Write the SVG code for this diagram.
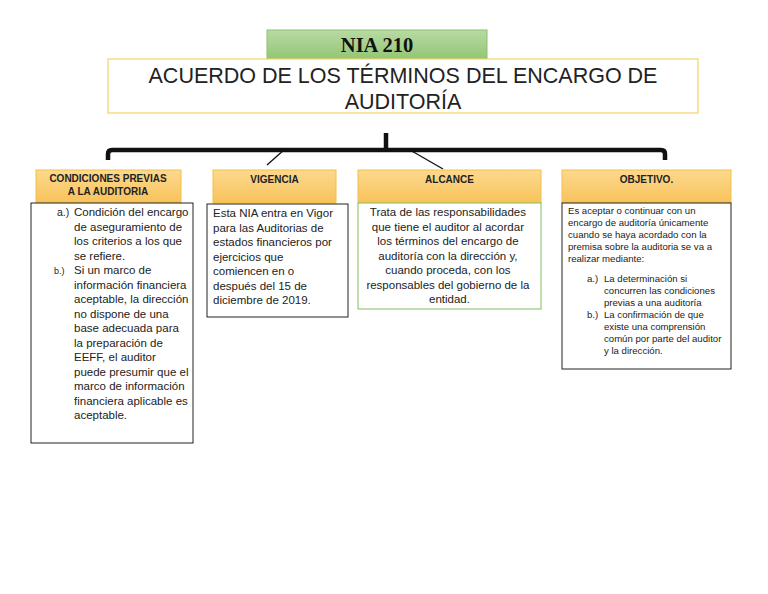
<svg xmlns="http://www.w3.org/2000/svg" width="768" height="594" viewBox="0 0 768 594">
<defs>
<linearGradient id="gGreen" x1="0" y1="0" x2="0" y2="1"><stop offset="0" stop-color="#b9daa2"/><stop offset="1" stop-color="#93c676"/></linearGradient>
<linearGradient id="gOrange" x1="0" y1="0" x2="0" y2="1"><stop offset="0" stop-color="#fcd98e"/><stop offset="1" stop-color="#f8c25a"/></linearGradient>
<style>
.t{font-family:"Liberation Sans",Arial,sans-serif;fill:#222}
.hb{fill:url(#gOrange);stroke:#f1c04a;stroke-width:1}
.hd{font-family:"Liberation Sans",Arial,sans-serif;font-weight:bold;font-size:10px;fill:#222;text-anchor:middle}
.cb{fill:#fff;stroke:#222;stroke-width:1}
.b1{font-size:11.5px}
.b4{font-size:9.6px}
.conn{fill:none;stroke:#111}
</style>
</defs>
<rect width="768" height="594" fill="#fff"/>
<g id="nia">
<rect x="267" y="30" width="220" height="29" fill="url(#gGreen)" stroke="#8dbf6e" stroke-width="1"/>
<text x="377" y="52" text-anchor="middle" style="font-family:'Liberation Serif','Times New Roman',serif;font-weight:bold;font-size:20.5px;fill:#111">NIA 210</text>
</g>
<g id="title">
<rect x="108" y="59" width="590" height="54" fill="#fff" stroke="#f2d468" stroke-width="1.2"/>
<text class="t" x="403" y="83" text-anchor="middle" font-size="21.5">ACUERDO DE LOS TÉRMINOS DEL ENCARGO DE</text>
<text class="t" x="403" y="109" text-anchor="middle" font-size="21.5">AUDITORÍA</text>
</g>
<g id="connectors">
<path class="conn" d="M108,160 L108,154 Q108,150 112,150 L661,150 Q665,150 665,154 L665,160" stroke-width="4.5"/>
<path class="conn" d="M386,133 L386,150" stroke-width="4.5"/>
<path class="conn" d="M285,149 L267,165" stroke-width="1.3"/>
<path class="conn" d="M410,150 L443,169" stroke-width="1.3"/>
</g>
<g id="condiciones">
<rect class="hb" x="36" y="170" width="145" height="33"/>
<text class="hd" x="108" y="182">CONDICIONES PREVIAS</text>
<text class="hd" x="108" y="195">A LA AUDITORIA</text>
<rect class="cb" x="31" y="203" width="162" height="240"/>
<text class="t b1">
<tspan x="57" y="216" font-size="10.5">a.)</tspan><tspan x="74" y="216">Condición del encargo</tspan>
<tspan x="74" y="230.5">de aseguramiento de</tspan>
<tspan x="74" y="245">los criterios a los que</tspan>
<tspan x="74" y="259.5">se refiere.</tspan>
<tspan x="54" y="274" font-size="9">b.)</tspan><tspan x="74" y="274">Si un marco de</tspan>
<tspan x="74" y="288.5">información financiera</tspan>
<tspan x="74" y="303">aceptable, la dirección</tspan>
<tspan x="74" y="317.5">no dispone de una</tspan>
<tspan x="74" y="332">base adecuada para</tspan>
<tspan x="74" y="346.5">la preparación de</tspan>
<tspan x="74" y="361">EEFF, el auditor</tspan>
<tspan x="74" y="375.5">puede presumir que el</tspan>
<tspan x="74" y="390">marco de información</tspan>
<tspan x="74" y="404.5">financiera aplicable es</tspan>
<tspan x="74" y="419">aceptable.</tspan>
</text>
</g>
<g id="vigencia">
<rect class="hb" x="213" y="170" width="123" height="33"/>
<text class="hd" x="274.5" y="183">VIGENCIA</text>
<rect class="cb" x="207" y="204" width="141" height="113"/>
<text class="t b1">
<tspan x="213" y="217">Esta NIA entra en Vigor</tspan>
<tspan x="213" y="231.5">para las Auditorias de</tspan>
<tspan x="213" y="246">estados financieros por</tspan>
<tspan x="213" y="260.5">ejercicios que</tspan>
<tspan x="213" y="275">comiencen en o</tspan>
<tspan x="213" y="289.5">después del 15 de</tspan>
<tspan x="213" y="304">diciembre de 2019.</tspan>
</text>
</g>
<g id="alcance">
<rect class="hb" x="358" y="170" width="183" height="33"/>
<text class="hd" x="449.5" y="183">ALCANCE</text>
<rect x="358" y="203" width="183" height="106" fill="#fff" stroke="#7fbf5f" stroke-width="1"/>
<text class="t b1" text-anchor="middle">
<tspan x="449.5" y="216">Trata de las responsabilidades</tspan>
<tspan x="449.5" y="230.5">que tiene el auditor al acordar</tspan>
<tspan x="449.5" y="245">los términos del encargo de</tspan>
<tspan x="449.5" y="259.5">auditoría con la dirección y,</tspan>
<tspan x="449.5" y="274">cuando proceda, con los</tspan>
<tspan x="449.5" y="288.5">responsables del gobierno de la</tspan>
<tspan x="449.5" y="303">entidad.</tspan>
</text>
</g>
<g id="objetivo">
<rect class="hb" x="562" y="170" width="169" height="33"/>
<text class="hd" x="646.5" y="183">OBJETIVO.</text>
<rect class="cb" x="562" y="203" width="169" height="166"/>
<text class="t b4">
<tspan x="568" y="214">Es aceptar o continuar con un</tspan>
<tspan x="568" y="226">encargo de auditoría únicamente</tspan>
<tspan x="568" y="238">cuando se haya acordado con la</tspan>
<tspan x="568" y="250">premisa sobre la auditoria se va a</tspan>
<tspan x="568" y="262">realizar mediante:</tspan>
<tspan x="587" y="282">a.)</tspan><tspan x="604" y="282">La determinación si</tspan>
<tspan x="604" y="294">concurren las condiciones</tspan>
<tspan x="604" y="306">previas a una auditoría</tspan>
<tspan x="587" y="318">b.)</tspan><tspan x="604" y="318">La confirmación de que</tspan>
<tspan x="604" y="330">existe una comprensión</tspan>
<tspan x="604" y="342">común por parte del auditor</tspan>
<tspan x="604" y="354">y la dirección.</tspan>
</text>
</g>
</svg>
